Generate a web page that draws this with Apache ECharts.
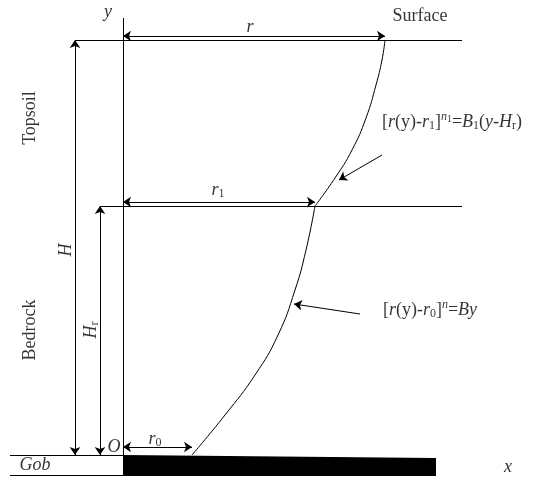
<!DOCTYPE html><html><head><meta charset="utf-8">
<script src="https://cdn.jsdelivr.net/npm/echarts@6/dist/echarts.min.js"></script>
<style>html,body{margin:0;padding:0;background:#fff}#c{width:550px;height:491px}</style></head><body><div id="c"></div>
<script>
// diagram coordinates (x right, y down, same units as picture)
const curveLower=[[192,455],[225,415],[255,375],[278,335],[295,290],[306,250],[315,206]];
const curveUpper=[[315,206],[335,178],[352,150],[366,118],[376,85],[382,60],[385,40]];
const plainLines=[[[123,18],[123,475]],[[75,40],[462,40]],[[100,206],[462,206]],[[10,455],[123,455]],[[10,475],[436,475]]];
const dimArrows=[[[75,40],[75,455]],[[100,206],[100,455]],[[123,36],[385,36]],[[123,202],[315,202]],[[123,447],[192,447]]];
const pointers=[[[382,155],[339,180]],[[360,314],[294,304]]];
const gob=[[123,455],[436,458],[436,475],[123,475]];
const F='Liberation Serif';
const chart=echarts.init(document.getElementById('c'));
const lineSeries=(d,sym)=>({type:'lines',coordinateSystem:'cartesian2d',data:d.map(c=>({coords:c})),
  symbol:sym,symbolSize:8,lineStyle:{color:'#000',width:1,opacity:1},silent:true});
const labels=[
 {p:[108,12],t:'{i|y}'},{p:[250,27],t:'{i|r}'},{p:[420,16],t:'{n|Surface}'},
 {p:[218,190],t:'{i|r}{s|1}'},{p:[155,439],t:'{i|r}{s|0}'},{p:[114,447],t:'{i|O}'},
 {p:[508,467],t:'{i|x}'},{p:[35,465],t:'{i|Gob}'},
 {p:[452,122],t:'{n|[}{i|r}{n|(y)-}{i|r}{s|1}{n|]}{sup|n}{ss|1}{n|=}{i|B}{s|1}{n|(}{i|y}{n|-}{i|H}{s|r}{n|)}'},
 {p:[430,310],t:'{n|[}{i|r}{n|(y)-}{i|r}{s|0}{n|]}{sup|n}{n|=}{i|By}'}
];
const rot=[{p:[30,118],t:'{n|Topsoil}'},{p:[30,330],t:'{n|Bedrock}'},{p:[66,250],t:'{i|H}'},{p:[91,330],t:'{i|H}{s|r}'}];
const rich={n:{fontFamily:F,fontSize:18,color:'#000'},i:{fontFamily:F,fontSize:18,fontStyle:'italic',color:'#000'},
 s:{fontFamily:F,fontSize:12,color:'#000',padding:[8,0,0,0]},sup:{fontFamily:F,fontSize:12,fontStyle:'italic',color:'#000',padding:[0,0,10,0]},
 ss:{fontFamily:F,fontSize:10,color:'#000',padding:[0,0,6,0]}};
const txt=(arr,r)=>({type:'scatter',symbolSize:0,silent:true,data:arr.map(o=>({value:o.p,label:{formatter:o.t}})),
 label:{show:true,position:'inside',rotate:r,rich:rich}});
chart.setOption({animation:false,
 grid:{left:0,right:0,top:0,bottom:0},
 xAxis:{type:'value',min:0,max:550,show:false},
 yAxis:{type:'value',min:0,max:491,inverse:true,show:false},
 series:[
  lineSeries(plainLines,['none','none']),
  lineSeries(dimArrows,['arrow','arrow']),
  lineSeries(pointers,['none','arrow']),
  {type:'line',data:curveLower,smooth:true,symbol:'none',lineStyle:{color:'#000',width:1}},
  {type:'line',data:curveUpper,smooth:true,symbol:'none',lineStyle:{color:'#000',width:1}},
  {type:'custom',renderItem:(p,api)=>({type:'polygon',shape:{points:gob.map(g=>api.coord(g))},style:{fill:'#000'}}),data:[0]},
  txt(labels,0),txt(rot,90)
 ]});
</script></body></html>
